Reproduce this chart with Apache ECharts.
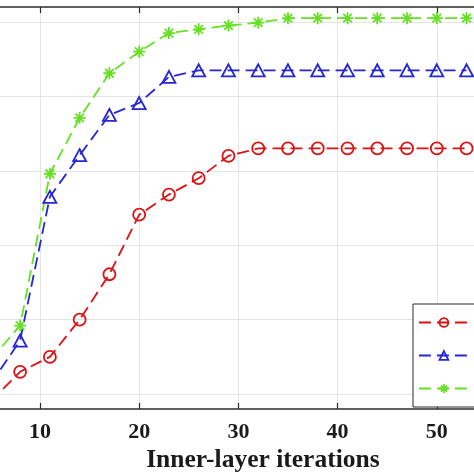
<!DOCTYPE html>
<html>
<head>
<meta charset="utf-8">
<script src="https://cdn.jsdelivr.net/npm/echarts@6/dist/echarts.min.js"></script>
<style>
  html, body { margin: 0; padding: 0; background: #fff; }
  #chart { width: 474px; height: 474px; }
</style>
</head>
<body>
<div id="chart"></div>
<script>
// values (y in grid units, lowest grid line = 0)
const iterations = [5, 8, 11, 14, 17, 20, 23, 26, 29, 32, 35, 38, 41, 44, 47, 50, 53];
const redVals = [-0.1, 0.30, 0.50, 1.00, 1.61, 2.41, 2.68, 2.90, 3.20, 3.30, 3.30, 3.30, 3.30, 3.30, 3.30, 3.30, 3.30];
const blueVals = [0.13, 0.72, 2.65, 3.21, 3.75, 3.91, 4.26, 4.35, 4.35, 4.35, 4.35, 4.35, 4.35, 4.35, 4.35, 4.35, 4.35];
const greenVals = [0.46, 0.92, 2.96, 3.71, 4.31, 4.60, 4.85, 4.90, 4.95, 4.99, 5.05, 5.05, 5.05, 5.05, 5.05, 5.05, 5.05];
const seriesNames = ["Scheme 1", "Scheme 2", "Scheme 3"];
const yGridValues = [0, 1, 2, 3, 4, 5];

const red = "#dd1111";
const blue = "#2626d2";
const green = "#66e022";
const axisColor = "#2b2b2b";
const font = "Liberation Serif";
const dash = [12, 6];
const starPath = "path://M0,-10L0,10M-10,0L10,0M-7.1,-7.1L7.1,7.1M-7.1,7.1L7.1,-7.1";

function pairs(vals) {
  return iterations.map((x, i) => [x, vals[i]]);
}

function makeSeries(name, vals, color, symbol, size) {
  return {
    name: name,
    type: "line",
    data: pairs(vals),
    symbol: symbol,
    symbolSize: size,
    lineStyle: { color: color, width: 1.8, type: dash },
    itemStyle: { color: "rgba(0,0,0,0)", borderColor: color, borderWidth: 1.8 },
    emphasis: { disabled: true },
    animation: false
  };
}

function legendItem(name, color) {
  return {
    name: name,
    itemStyle: { color: "rgba(0,0,0,0)", borderColor: color, borderWidth: 1.8 },
    lineStyle: { color: color, width: 1.8, type: dash }
  };
}

let myChart = echarts.init(document.getElementById("chart"));
let option = {
  backgroundColor: "#fff",
  animation: false,
  grid: {
    left: -59.25,
    right: -62,
    top: 7,
    bottom: 65,
    outerBoundsMode: "none",
    containLabel: false
  },
  legend: {
    orient: "vertical",
    left: 413,
    top: 304,
    padding: [13, 5, 13, 5],
    itemWidth: 50,
    itemHeight: 11,
    itemGap: 22,
    backgroundColor: "#fff",
    borderColor: axisColor,
    borderWidth: 1,
    textStyle: {
      fontFamily: font,
      fontWeight: "bold",
      fontSize: 11,
      lineHeight: 11,
      color: "#1a1a1a",
      padding: [0, 0, 0, 12]
    },
    data: [
      legendItem(seriesNames[0], red),
      legendItem(seriesNames[1], blue),
      legendItem(seriesNames[2], green)
    ]
  },
  xAxis: [
    {
      type: "value",
      position: "bottom",
      min: 0,
      max: 60,
      interval: 10,
      name: "Inner-layer iterations",
      nameLocation: "middle",
      nameGap: 37,
      nameTextStyle: {
        fontFamily: font,
        fontWeight: "bold",
        fontSize: 25.5,
        color: "#1a1a1a",
        padding: [0, 0, 0, 49]
      },
      axisLine: { show: true, onZero: false, lineStyle: { color: axisColor, width: 1.5 } },
      axisTick: { show: true, inside: true, length: 6, lineStyle: { color: axisColor, width: 1.2 } },
      axisLabel: {
        margin: 12,
        fontFamily: font,
        fontWeight: "bold",
        fontSize: 22,
        color: "#1a1a1a"
      },
      splitLine: { show: true, lineStyle: { color: "#e4e4e4", width: 1 } }
    },
    {
      type: "value",
      position: "top",
      min: 0,
      max: 60,
      interval: 10,
      axisLine: { show: true, onZero: false, lineStyle: { color: axisColor, width: 1.5 } },
      axisTick: { show: true, inside: true, length: 6, lineStyle: { color: axisColor, width: 1.2 } },
      axisLabel: { show: false },
      splitLine: { show: false }
    }
  ],
  yAxis: {
    type: "value",
    min: -0.2,
    max: 5.2,
    axisLine: { show: true, onZero: false, lineStyle: { color: axisColor } },
    axisTick: { show: true, inside: true, customValues: yGridValues },
    axisLabel: { show: false, customValues: yGridValues },
    splitLine: { show: true, lineStyle: { color: "#e4e4e4", width: 1 } }
  },
  series: [
    makeSeries(seriesNames[0], redVals, red, "circle", 12),
    makeSeries(seriesNames[1], blueVals, blue, "triangle", [13, 12]),
    makeSeries(seriesNames[2], greenVals, green, starPath, 12)
  ]
};
myChart.setOption(option);
window.addEventListener("resize", () => {
  myChart.resize();
});
</script>
</body>
</html>
